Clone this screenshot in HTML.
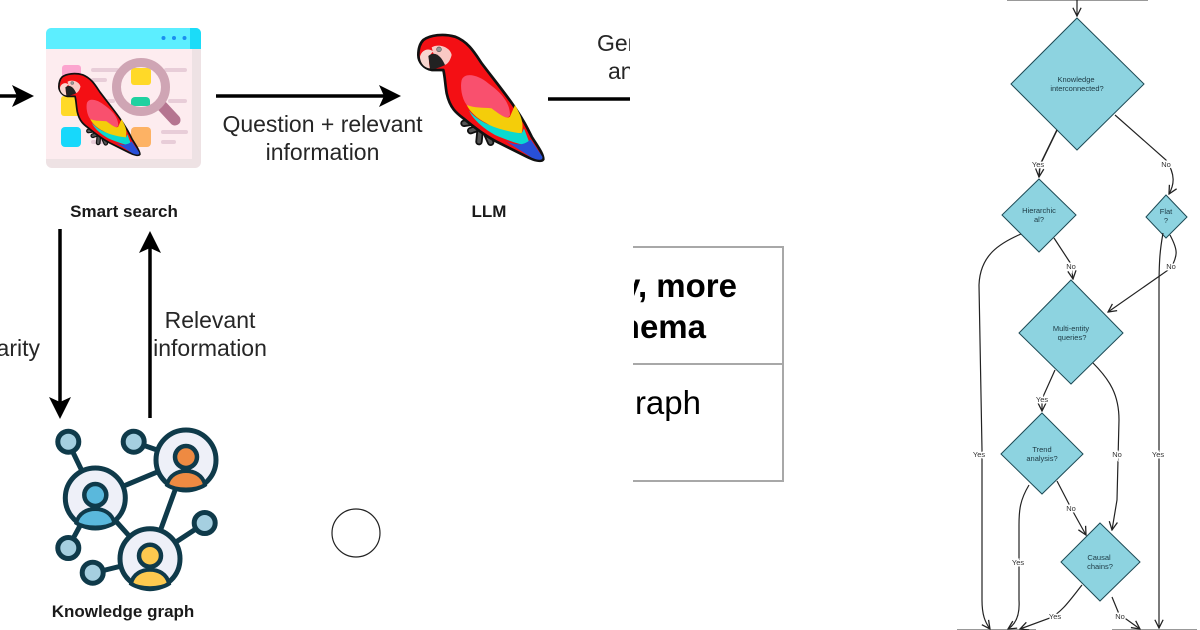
<!DOCTYPE html>
<html><head><meta charset="utf-8"><style>
html,body{margin:0;padding:0;background:#fff}
#p{position:relative;width:1200px;height:630px;overflow:hidden;background:#fff;font-family:"Liberation Sans",sans-serif;filter:blur(.35px)}
svg{position:absolute;left:0;top:0}
.t{position:absolute;white-space:nowrap;font-size:23px;line-height:28px;color:#262626;text-align:center}
.b{position:absolute;white-space:nowrap;font-size:17px;font-weight:bold;color:#1a1a1a;transform:translateX(-50%);line-height:18px}
text{font-family:"Liberation Sans",sans-serif}
.tb{position:absolute;white-space:nowrap;font-weight:bold;line-height:42px}
</style></head><body><div id="p">
<svg width="1200" height="630" viewBox="0 0 1200 630">
<defs>
<marker id="v" viewBox="0 0 12 12" refX="11" refY="6" markerWidth="11" markerHeight="11" markerUnits="userSpaceOnUse" orient="auto"><path d="M2,1.500 L11,6 L2,10.500" fill="none" stroke="#222" stroke-width="1.400"/></marker>
<g id="parrot">
<g fill="none" stroke-linecap="round" stroke-linejoin="round">
<path d="M225,305L192,310M240,322L212,332M240,335L237,365M262,345L272,367" stroke="#111" stroke-width="22"/>
<path d="M225,305L192,310M240,322L212,332M240,335L237,365M262,345L272,367" stroke="#555" stroke-width="11"/>
</g>
<path d="M70,60 C90,45 130,40 165,50 C205,65 225,100 245,130 C290,190 350,260 385,330 L395,350 C410,375 430,400 430,418 C425,428 400,420 380,410 L290,365 C260,350 220,320 190,295 C170,280 150,265 140,220 C135,190 135,170 130,150 C115,150 105,150 95,150 C70,145 55,125 55,105 C55,85 60,70 70,60Z" fill="#f40f14" stroke="#111" stroke-width="8" stroke-linejoin="round"/>
<path d="M185,180 C195,155 235,165 265,190 C300,215 330,245 330,285 C325,300 300,290 280,270 C250,262 215,265 200,255 C185,235 180,200 185,180Z" fill="#f9506e"/>
<path d="M200,255 C225,265 250,262 275,265 C295,280 320,300 330,290 L345,255 C365,290 372,310 365,340 C340,340 290,330 260,310 C230,295 210,275 200,255Z" fill="#f4cd0a"/>
<path d="M207,272 C230,300 280,330 365,340 L372,325 L392,378 C360,375 320,360 285,345 C250,325 220,300 207,272Z" fill="#0ad9cf"/>
<path d="M315,362 C340,375 370,380 392,358 L427,410 C430,422 415,422 395,413Z" fill="#2850d8"/>
<path d="M95,82 C115,70 150,80 155,105 C150,125 140,135 132,135 L100,100Z" fill="#f9c9c4"/>
<path d="M60,110 C65,90 85,82 100,95 C85,105 85,125 90,145 C75,145 60,130 60,110Z" fill="#f8d6d0"/>
<path d="M85,108 C105,90 125,110 135,135 C115,145 95,150 90,145Z" fill="#222"/>
<circle cx="117" cy="88" r="7" fill="#999" stroke="#555" stroke-width="2"/>
</g>
<g id="head"><path d="M-19,25 C-17,15 -8,11 0,11 C8,11 17,15 19,25 C10,31 -10,31 -19,25Z" stroke="#0f3a4a" stroke-width="4"/><circle cx="0" cy="-3" r="11" stroke="#0f3a4a" stroke-width="4.500"/></g>
</defs>

<!-- smart search window -->
<rect x="46" y="28" width="155" height="140" rx="6" fill="#eee2e4"/>
<rect x="46" y="45" width="146" height="114" fill="#fdecef"/>
<path d="M46,49V33a5,5 0 0 1 5,-5H196a5,5 0 0 1 5,5V49Z" fill="#5ceeff"/>
<path d="M190,28H196a5,5 0 0 1 5,5V49H190Z" fill="#1bdcf8"/>
<g fill="#1a8ff0"><circle cx="163.500" cy="38" r="2"/><circle cx="174" cy="38" r="2"/><circle cx="184.500" cy="38" r="2"/></g>
<rect x="62" y="65" width="19" height="20" rx="3" fill="#fca5cf"/>
<rect x="61" y="96" width="19" height="20" rx="3" fill="#ffd928"/>
<rect x="61" y="127" width="20" height="20" rx="4" fill="#17d8fb"/>
<rect x="131" y="127" width="20" height="20" rx="4" fill="#fdb264"/>
<g stroke="#e8cdd8" stroke-width="4" stroke-linecap="round"><path d="M93,70H117M93,80H105M166,70H185M170,101H185M163,132H186M163,142H174M93,101H113M93,142H105"/></g>
<rect x="131" y="68" width="20" height="17" rx="3" fill="#ffd928"/>
<path d="M131,106 V101 a4,4 0 0 1 4,-4 H146 a4,4 0 0 1 4,4 V106Z" fill="#1fd1a0"/>
<path d="M162,106 L175,120" stroke="#b57590" stroke-width="11" stroke-linecap="round"/>
<circle cx="141" cy="87" r="24.500" fill="none" stroke="#cfa5b4" stroke-width="9"/>
<use href="#parrot" transform="translate(47,64) scale(.216)"/>
<!-- LLM parrot -->
<use href="#parrot" transform="translate(400,20) scale(.3333)"/>

<!-- arrows -->
<g stroke="#000" stroke-width="3.500" fill="none">
<path d="M0,96H20M216,96H385M548,99H630"/>
<path d="M60,229V405M150,418V245"/>
</g>
<g fill="#000">
<path d="M34,96 L12,85 L17,96 L12,107Z"/>
<path d="M401,96 L379,85 L384,96 L379,107Z"/>
<path d="M60,419 L49,397 L60,402 L71,397Z"/>
<path d="M150,231 L139,253 L150,248 L161,253Z"/>
</g>

<!-- knowledge graph -->
<g stroke="#0f3a4a" stroke-width="5" fill="none">
<path d="M68,442 L95,498 M134,442 L186,460 M95,498 L186,460 M186,460 L150,559 M95,498 L150,559 M95,498 L68,548 M150,559 L93,573 M150,559 L205,523"/>
</g>
<g stroke="#0f3a4a" stroke-width="5" fill="#a5cfe0">
<circle cx="68.300" cy="441.700" r="10.500"/><circle cx="133.700" cy="441.700" r="10.500"/><circle cx="204.700" cy="523" r="10.500"/><circle cx="68.300" cy="548" r="10.500"/><circle cx="92.700" cy="572.700" r="10.500"/>
</g>
<g stroke="#0f3a4a" stroke-width="5" fill="#eef0f8">
<circle cx="95.300" cy="498" r="30"/><circle cx="186" cy="460" r="30"/><circle cx="150" cy="558.700" r="30"/>
</g>
<use href="#head" x="95.300" y="498" fill="#5ab8dc"/>
<use href="#head" x="186" y="460" fill="#ee8a42"/>
<use href="#head" x="150" y="558.700" fill="#fdc94f"/>

<circle cx="356" cy="533" r="24" fill="#fff" stroke="#222" stroke-width="1.200"/>

<!-- table -->
<path d="M633,247H783V481H633M633,364H783" fill="none" stroke="#a8a8a8" stroke-width="2"/>

<!-- flowchart -->
<path d="M1007,.5H1148M957,629.500H1036M1112,629.500H1197" stroke="#999" stroke-width="1" fill="none"/>
<g fill="#8dd3e0" stroke="#1d4a55" stroke-width="1">
<path d="M1077,18L1144,84L1077,150L1011,84Z"/>
<path d="M1039,179L1076,215L1039,252L1002,215Z"/>
<path d="M1166,195L1187,217L1166,238L1146,217Z"/>
<path d="M1071,280L1123,333L1071,384L1019,333Z"/>
<path d="M1042,413L1083,454L1042,494L1001,454Z"/>
<path d="M1100,523L1140,562L1100,601L1061,562Z"/>
</g>
<g fill="none" stroke="#222" stroke-width="1.200">
<path d="M1077,0V16" marker-end="url(#v)"/>
<path d="M1057,130L1040,165L1039,177" marker-end="url(#v)" stroke-width="1.500"/>
<path d="M1115,115L1166,160C1176,175 1174,185 1169,194" marker-end="url(#v)"/>
<path d="M1054,238L1071,264L1073,279" marker-end="url(#v)"/>
<path d="M1021,234C1000,243 980,255 979,285L982,450V600C982,615 985,622 990,629" marker-end="url(#v)"/>
<path d="M1170,235C1178,250 1178,255 1171,268L1108,312" marker-end="url(#v)"/>
<path d="M1163,233C1160,250 1159,260 1159,290V628" marker-end="url(#v)"/>
<path d="M1055,370L1042,399V411" marker-end="url(#v)"/>
<path d="M1093,363C1110,380 1119,395 1119,420L1117,500L1112,530" marker-end="url(#v)"/>
<path d="M1029,485C1020,500 1019,510 1019,525V600C1020,615 1016,624 1008,629" marker-end="url(#v)"/>
<path d="M1057,481L1071,508L1086,535" marker-end="url(#v)"/>
<path d="M1082,585C1070,600 1062,612 1050,618L1020,629" marker-end="url(#v)"/>
<path d="M1112,597L1119,614L1140,629" marker-end="url(#v)"/>
</g>
<g font-size="7.500" fill="#1d3a44" text-anchor="middle">
<text x="1076" y="82">Knowledge</text><text x="1077" y="91">interconnected?</text>
<text x="1039" y="213">Hierarchic</text><text x="1039" y="222">al?</text>
<text x="1166" y="214">Flat</text><text x="1166" y="223">?</text>
<text x="1071" y="331">Multi-entity</text><text x="1072" y="340">queries?</text>
<text x="1042" y="452">Trend</text><text x="1042" y="461">analysis?</text>
<text x="1099" y="560">Causal</text><text x="1100" y="569">chains?</text>
</g>
<g font-size="7.500" text-anchor="middle" fill="#333" stroke="#fff" stroke-width="3" paint-order="stroke">
<text x="1038" y="167">Yes</text><text x="1166" y="167">No</text>
<text x="1071" y="269">No</text><text x="1171" y="269">No</text>
<text x="1042" y="402">Yes</text><text x="979" y="457">Yes</text><text x="1117" y="457">No</text><text x="1158" y="457">Yes</text>
<text x="1071" y="511">No</text><text x="1018" y="565">Yes</text><text x="1055" y="619">Yes</text><text x="1120" y="619">No</text>
</g>
</svg>

<div class="b" style="left:124px;top:203px">Smart search</div>
<div class="b" style="left:489px;top:203px">LLM</div>
<div class="b" style="left:123px;top:603px">Knowledge graph</div>
<div class="t" style="left:222px;top:110px;width:201px">Question + relevant<br>information</div>
<div class="t" style="left:140px;top:306px;width:140px">Relevant<br>information</div>
<div class="t" style="right:1160px;top:334px">Similarity</div>
<div style="position:absolute;left:500px;top:0;width:130px;height:120px;overflow:hidden"><div class="t" style="left:97px;top:29px;text-align:left">Generate<br><span style="margin-left:11px">answer</span></div></div>
<div style="position:absolute;left:634px;top:248px;width:148px;height:232px;overflow:hidden;font-size:33px;color:#000">
<div class="tb" style="right:45px;top:17px">Flexibility, more</div>
<div class="tb" style="right:76px;top:58px">rigid schema</div>
<div style="position:absolute;right:81px;top:136px;white-space:nowrap;line-height:38px">Knowledge graph</div>
</div>
</div></body></html>
